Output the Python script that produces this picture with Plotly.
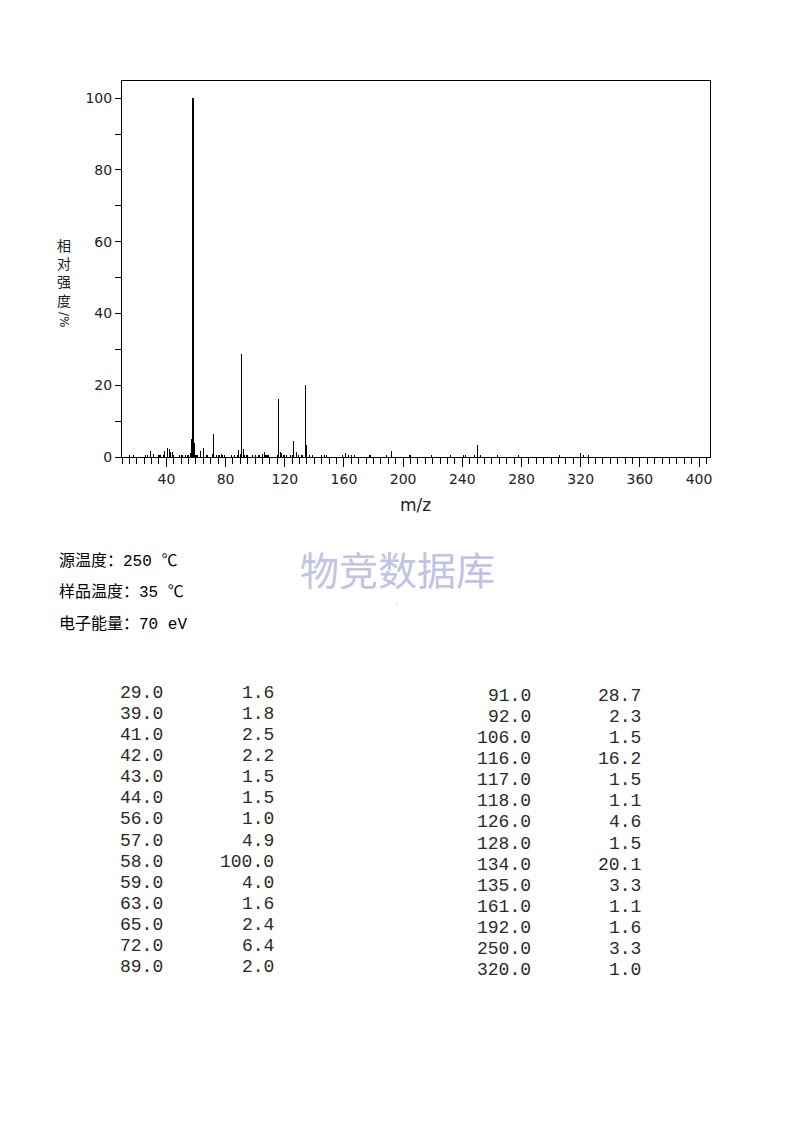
import plotly.graph_objects as go

# ---- data ----
table_mz = [29.0, 39.0, 41.0, 42.0, 43.0, 44.0, 56.0, 57.0, 58.0, 59.0, 63.0, 65.0, 72.0, 89.0,
            91.0, 92.0, 106.0, 116.0, 117.0, 118.0, 126.0, 128.0, 134.0, 135.0, 161.0, 192.0, 250.0, 320.0]
table_int = [1.6, 1.8, 2.5, 2.2, 1.5, 1.5, 1.0, 4.9, 100.0, 4.0, 1.6, 2.4, 6.4, 2.0,
             28.7, 2.3, 1.5, 16.2, 1.5, 1.1, 4.6, 1.5, 20.1, 3.3, 1.1, 1.6, 3.3, 1.0]

# small peaks (< 1 %)
minor_mz = [15, 18, 26, 27, 31, 35, 36, 38, 45, 49, 50, 51, 53, 54, 55, 60, 61, 67, 68, 71,
            74, 75, 76, 77, 78, 79, 84, 86, 88, 90, 93, 94, 95, 98, 100, 102, 103, 105, 107, 108, 109,
            115, 119, 120, 121, 124, 125, 129, 131, 132, 137, 139, 145, 147, 148, 159, 163, 165, 167,
            177, 178, 189, 204, 205, 219, 232, 241, 242, 248, 252, 264, 278, 306, 322, 325]
minor_int = [0.3, 0.3, 0.3, 0.6, 0.7, 0.4, 0.4, 0.5, 0.6, 0.3, 0.6, 0.5, 0.4, 0.4, 0.6, 0.4, 0.4, 0.4, 0.3, 0.8,
             0.4, 0.3, 0.4, 0.7, 0.5, 0.4, 0.3, 0.3, 0.3, 0.8, 0.4, 0.3, 0.3, 0.3, 0.4, 0.5, 0.4, 0.8, 0.4, 0.3, 0.3,
             0.4, 0.4, 0.5, 0.3, 0.4, 0.4, 0.3, 0.3, 0.3, 0.3, 0.3, 0.4, 0.5, 0.4, 0.3, 0.4, 0.3, 0.3,
             0.6, 0.4, 0.3, 0.4, 0.3, 0.3, 0.3, 0.5, 0.4, 0.4, 0.4, 0.3, 0.3, 0.4, 0.4, 0.4]

x_ticks = [40, 80, 120, 160, 200, 240, 280, 320, 360, 400]
y_ticks = [0, 20, 40, 60, 80, 100]

info_lines = ["源温度：250 ℃", "样品温度：35 ℃", "电子能量：70 eV"]
y_title = "相<br>对<br>强<br>度"
watermark = "物竞数据库"

# ---- figure ----
W, H = 794, 1134
OFF = 8  # page body margin offset
L, R, T, B = 122 - OFF, 710 - OFF, 81 - OFF, 457 - OFF


def px(x):
    return (x - OFF - L) / (R - L)


def py(y):
    return (B - (y - OFF)) / (B - T)


fig = go.Figure()
fig.add_trace(go.Bar(x=table_mz + minor_mz, y=table_int + minor_int, width=0.05,
                     marker=dict(color="black", line=dict(width=0)), showlegend=False))

tickfont = dict(family="DejaVu Sans", size=14, color="#222")
fig.update_layout(
    width=W, height=H, paper_bgcolor="white", plot_bgcolor="white",
    margin=dict(l=L, r=W - R, t=T, b=H - B, autoexpand=False),
    bargap=0, showlegend=False,
    xaxis=dict(range=[10, 407.4], tickvals=x_ticks, ticks="outside", ticklen=9, tickwidth=1,
               tickcolor="black", showline=True, linecolor="black", linewidth=1, mirror=True,
               showgrid=False, zeroline=False, tickfont=tickfont,
               minor=dict(dtick=5, tick0=0, ticks="outside", ticklen=6, tickcolor="black", showgrid=False)),
    yaxis=dict(range=[0, 104.8], tickvals=y_ticks, ticks="outside", ticklen=6, tickwidth=1,
               tickcolor="black", showline=True, linecolor="black", linewidth=1, mirror=True,
               showgrid=False, zeroline=False, tickfont=tickfont,
               minor=dict(dtick=10, tick0=0, ticks="outside", ticklen=6, tickcolor="black", showgrid=False)),
)

ann = []
# axis titles
ann.append(dict(text="m/z", x=px(415), y=py(505), xref="paper", yref="paper", showarrow=False,
                font=dict(family="DejaVu Sans", size=17, color="#222"), xanchor="center", yanchor="middle"))
ann.append(dict(text=y_title, x=px(64), y=py(272), xref="paper", yref="paper", showarrow=False,
                font=dict(family="Noto Sans CJK SC", size=14, color="#222"),
                xanchor="center", yanchor="middle"))
ann.append(dict(text="/%", x=px(64), y=py(319), xref="paper", yref="paper", showarrow=False, textangle=90,
                font=dict(family="DejaVu Sans", size=12, color="#222"), xanchor="center", yanchor="middle"))

# info lines
for i, t in enumerate(info_lines):
    ann.append(dict(text=t, x=px(57), y=py(561 + i * 31.5), xref="paper", yref="paper", showarrow=False,
                    font=dict(family="Liberation Mono, Noto Sans CJK SC", size=16, color="black"),
                    xanchor="left", yanchor="middle"))

# watermark
ann.append(dict(text=watermark, x=px(397), y=py(568), xref="paper", yref="paper", showarrow=False,
                font=dict(family="Noto Sans CJK SC", size=39, color="rgb(194,194,232)"),
                xanchor="center", yanchor="middle"))
ann.append(dict(text=".", x=px(397), y=py(601), xref="paper", yref="paper", showarrow=False,
                font=dict(family="DejaVu Sans", size=6, color="#666"), xanchor="center", yanchor="middle"))

# peak table
tfont = dict(family="Liberation Mono", size=18, color="#2a2a2a")
half = len(table_mz) // 2
for col in range(2):
    x_mz, x_int, y0 = (165, 276, 693) if col == 0 else (533, 643, 696)
    for r in range(half):
        k = col * half + r
        yy = py(y0 + r * 21.08)
        ann.append(dict(text=f"{table_mz[k]:.1f}", x=px(x_mz), y=yy, xref="paper", yref="paper",
                        showarrow=False, font=tfont, xanchor="right", yanchor="middle"))
        ann.append(dict(text=f"{table_int[k]:.1f}", x=px(x_int), y=yy, xref="paper", yref="paper",
                        showarrow=False, font=tfont, xanchor="right", yanchor="middle"))

fig.update_layout(annotations=ann)
fig.write_html("out.html")
